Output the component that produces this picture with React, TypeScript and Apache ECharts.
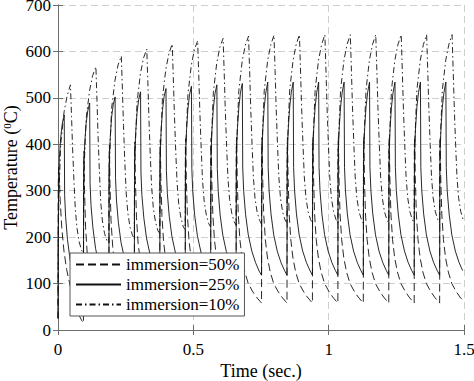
import React, { useEffect, useRef } from "react";
import * as echarts from "echarts";

// Cycle start times (s) (period ≈ 0.094 s)
const cycleStarts = [0, 0.094, 0.188, 0.282, 0.376, 0.47, 0.564, 0.658, 0.752, 0.846, 0.94, 1.034, 1.128, 1.222, 1.316, 1.41];

// immersion=25% (solid): time offsets within a cycle and temperatures per cycle
const solidOffsets = [0, 0.0008, 0.002, 0.005, 0.01, 0.016, 0.023, 0.0245, 0.028, 0.035, 0.045, 0.058, 0.072, 0.085];
const solidSteady = [118, 330, 390, 435, 480, 512, 534, 350, 300, 250, 205, 170, 145, 128];
const solidRows = [
  [25, 200, 300, 370, 415, 445, 463, 290, 245, 195, 150, 115, 90, 75],
  [70, 300, 360, 405, 445, 472, 489, 315, 268, 220, 175, 140, 115, 98],
  [90, 315, 372, 415, 458, 485, 502, 328, 280, 232, 188, 153, 128, 110],
  [100, 322, 380, 425, 468, 496, 513, 338, 290, 242, 198, 163, 138, 115],
  [107, 325, 384, 429, 473, 503, 520, 343, 294, 245, 201, 166, 141, 120],
  [111, 327, 386, 432, 476, 507, 525, 346, 297, 247, 203, 168, 143, 123],
  [114, 328, 388, 433, 478, 509, 528, 348, 298, 248, 204, 169, 144, 126],
  [116, 329, 389, 434, 479, 511, 531, 349, 299, 249, 205, 170, 145, 127],
  solidSteady, solidSteady, solidSteady, solidSteady, solidSteady, solidSteady, solidSteady, solidSteady,
];

// immersion=10% (dash-dot)
const dashDotOffsets = [0, 0.0008, 0.004, 0.01, 0.0225, 0.034, 0.046, 0.05, 0.054, 0.059, 0.064, 0.07, 0.078, 0.087];
const dashDotSteady = [230, 390, 431, 517, 581, 615, 636, 560, 480, 400, 330, 285, 255, 238];
const dashDotRows = [
  [25, 200, 300, 400, 470, 505, 528, 460, 390, 320, 260, 220, 190, 172],
  [165, 330, 370, 455, 515, 548, 567, 495, 418, 340, 275, 235, 208, 192],
  [187, 350, 390, 477, 538, 571, 590, 518, 440, 360, 295, 252, 222, 204],
  [197, 362, 402, 490, 552, 586, 605, 533, 455, 375, 308, 264, 233, 214],
  [208, 372, 412, 500, 562, 596, 616, 544, 465, 385, 316, 272, 242, 222],
  [216, 380, 420, 507, 570, 604, 623, 550, 471, 391, 322, 278, 248, 229],
  [222, 385, 425, 512, 575, 609, 628, 555, 475, 395, 326, 281, 251, 233],
  [226, 388, 428, 515, 579, 613, 633, 558, 478, 398, 328, 283, 253, 236],
  [228, 389, 430, 516, 580, 614, 635, 559, 479, 399, 329, 284, 254, 237],
  dashDotSteady, dashDotSteady, dashDotSteady, dashDotSteady, dashDotSteady, dashDotSteady, dashDotSteady,
];

// immersion=50% (dashed)
const dashedOffsets = [0, 0.0008, 0.002, 0.004, 0.008, 0.014, 0.022, 0.032, 0.045, 0.06, 0.075, 0.088];
const dashedSteady = [58, 400, 415, 330, 250, 195, 155, 125, 100, 84, 71, 62];
const dashedRows = [
  [25, 300, 350, 345, 280, 220, 170, 130, 95, 60, 35, 20],
  [15, 360, 385, 300, 220, 165, 125, 95, 72, 58, 46, 40],
  [36, 375, 398, 315, 235, 180, 140, 110, 86, 71, 59, 50],
  [45, 385, 405, 322, 242, 187, 147, 117, 93, 78, 65, 55],
  [50, 392, 410, 326, 246, 191, 151, 121, 97, 81, 68, 58],
  [54, 396, 412, 328, 248, 193, 153, 123, 98, 82, 69, 60],
  [56, 398, 414, 329, 249, 194, 154, 124, 99, 83, 70, 61],
  [57, 399, 415, 330, 250, 195, 155, 125, 100, 84, 71, 62],
  dashedSteady, dashedSteady, dashedSteady, dashedSteady, dashedSteady, dashedSteady, dashedSteady, dashedSteady,
];

const seriesNames = ["immersion=50%", "immersion=25%", "immersion=10%"];
const xTicks = { min: 0, max: 1.5, interval: 0.5 };
const yTicks = { min: 0, max: 700, interval: 100 };

function buildPoints(offsets: number[], rows: number[][]) {
  const pts: number[][] = [];
  rows.forEach((row, k) => {
    offsets.forEach((o, j) => {
      const t = Math.round((cycleStarts[k] + o) * 10000) / 10000;
      if (t <= 1.5) pts.push([t, row[j]]);
    });
  });
  return pts;
}

const FONT = "Liberation Serif";

export default function App() {
  const ref = useRef<HTMLDivElement>(null);
  useEffect(() => {
    if (!ref.current) return;
    const chart = echarts.init(ref.current, undefined, { renderer: "svg" });
    const axisLine = { show: true, lineStyle: { color: "#6e6e6e", width: 1 } };
    const tick = { show: true, inside: true, length: 5, lineStyle: { color: "#6e6e6e" } };
    const grid = { show: true, lineStyle: { color: "#cfcfcf", type: [7, 4] as any, width: 1 } };
    chart.setOption({
      animation: false,
      backgroundColor: "#fff",
      grid: { left: 58, right: 10, top: 5, bottom: 51, containLabel: false, outerBoundsMode: "none" },
      xAxis: [
        {
          type: "value", ...xTicks, position: "bottom",
          axisLine, axisTick: tick, splitLine: grid,
          axisLabel: { color: "#000", fontSize: 17, fontFamily: FONT, margin: 11 },
          name: "Time (sec.)", nameLocation: "middle", nameGap: 32, nameMoveOverlap: false,
          nameTextStyle: { color: "#000", fontSize: 18, fontFamily: FONT },
        },
        {
          type: "value", ...xTicks, position: "top",
          axisLine, axisTick: tick, splitLine: { show: false }, axisLabel: { show: false },
        },
      ],
      yAxis: [
        {
          type: "value", ...yTicks, position: "left",
          axisLine, axisTick: tick, splitLine: grid,
          axisLabel: { color: "#000", fontSize: 17, fontFamily: FONT, margin: 7 },
          name: "Temperature ({sup|0}C)", nameLocation: "middle", nameGap: 37, nameMoveOverlap: false,
          nameTextStyle: {
            color: "#000", fontSize: 18, fontFamily: FONT,
            rich: { sup: { fontSize: 11, fontFamily: FONT, color: "#000", verticalAlign: "top", padding: [0, 0, 9, 0] } },
          },
        },
        {
          type: "value", ...yTicks, position: "right",
          axisLine, axisTick: tick, splitLine: { show: false }, axisLabel: { show: false },
        },
      ],
      legend: {
        orient: "vertical", left: 70, top: 253,
        data: seriesNames,
        backgroundColor: "#fff", borderColor: "#555", borderWidth: 1,
        padding: [3, 5, 3, 5], itemGap: 3, itemWidth: 45, itemHeight: 14,
        itemStyle: { opacity: 0 },
        textStyle: { color: "#000", fontSize: 17, fontFamily: FONT },
      },
      series: [
        {
          name: seriesNames[0], type: "line", symbol: "none", data: buildPoints(dashedOffsets, dashedRows),
          lineStyle: { color: "#111", width: 0.9, type: [8, 4] }, itemStyle: { color: "#111" },
        },
        {
          name: seriesNames[1], type: "line", symbol: "none", data: buildPoints(solidOffsets, solidRows),
          lineStyle: { color: "#111", width: 0.9, type: "solid" }, itemStyle: { color: "#111" },
        },
        {
          name: seriesNames[2], type: "line", symbol: "none", data: buildPoints(dashDotOffsets, dashDotRows),
          lineStyle: { color: "#111", width: 0.9, type: [6, 3, 1.5, 3] }, itemStyle: { color: "#111" },
        },
      ],
    });
    return () => chart.dispose();
  }, []);
  return <div ref={ref} style={{ position: "fixed", left: 0, top: 0, width: 474, height: 381 }} />;
}
